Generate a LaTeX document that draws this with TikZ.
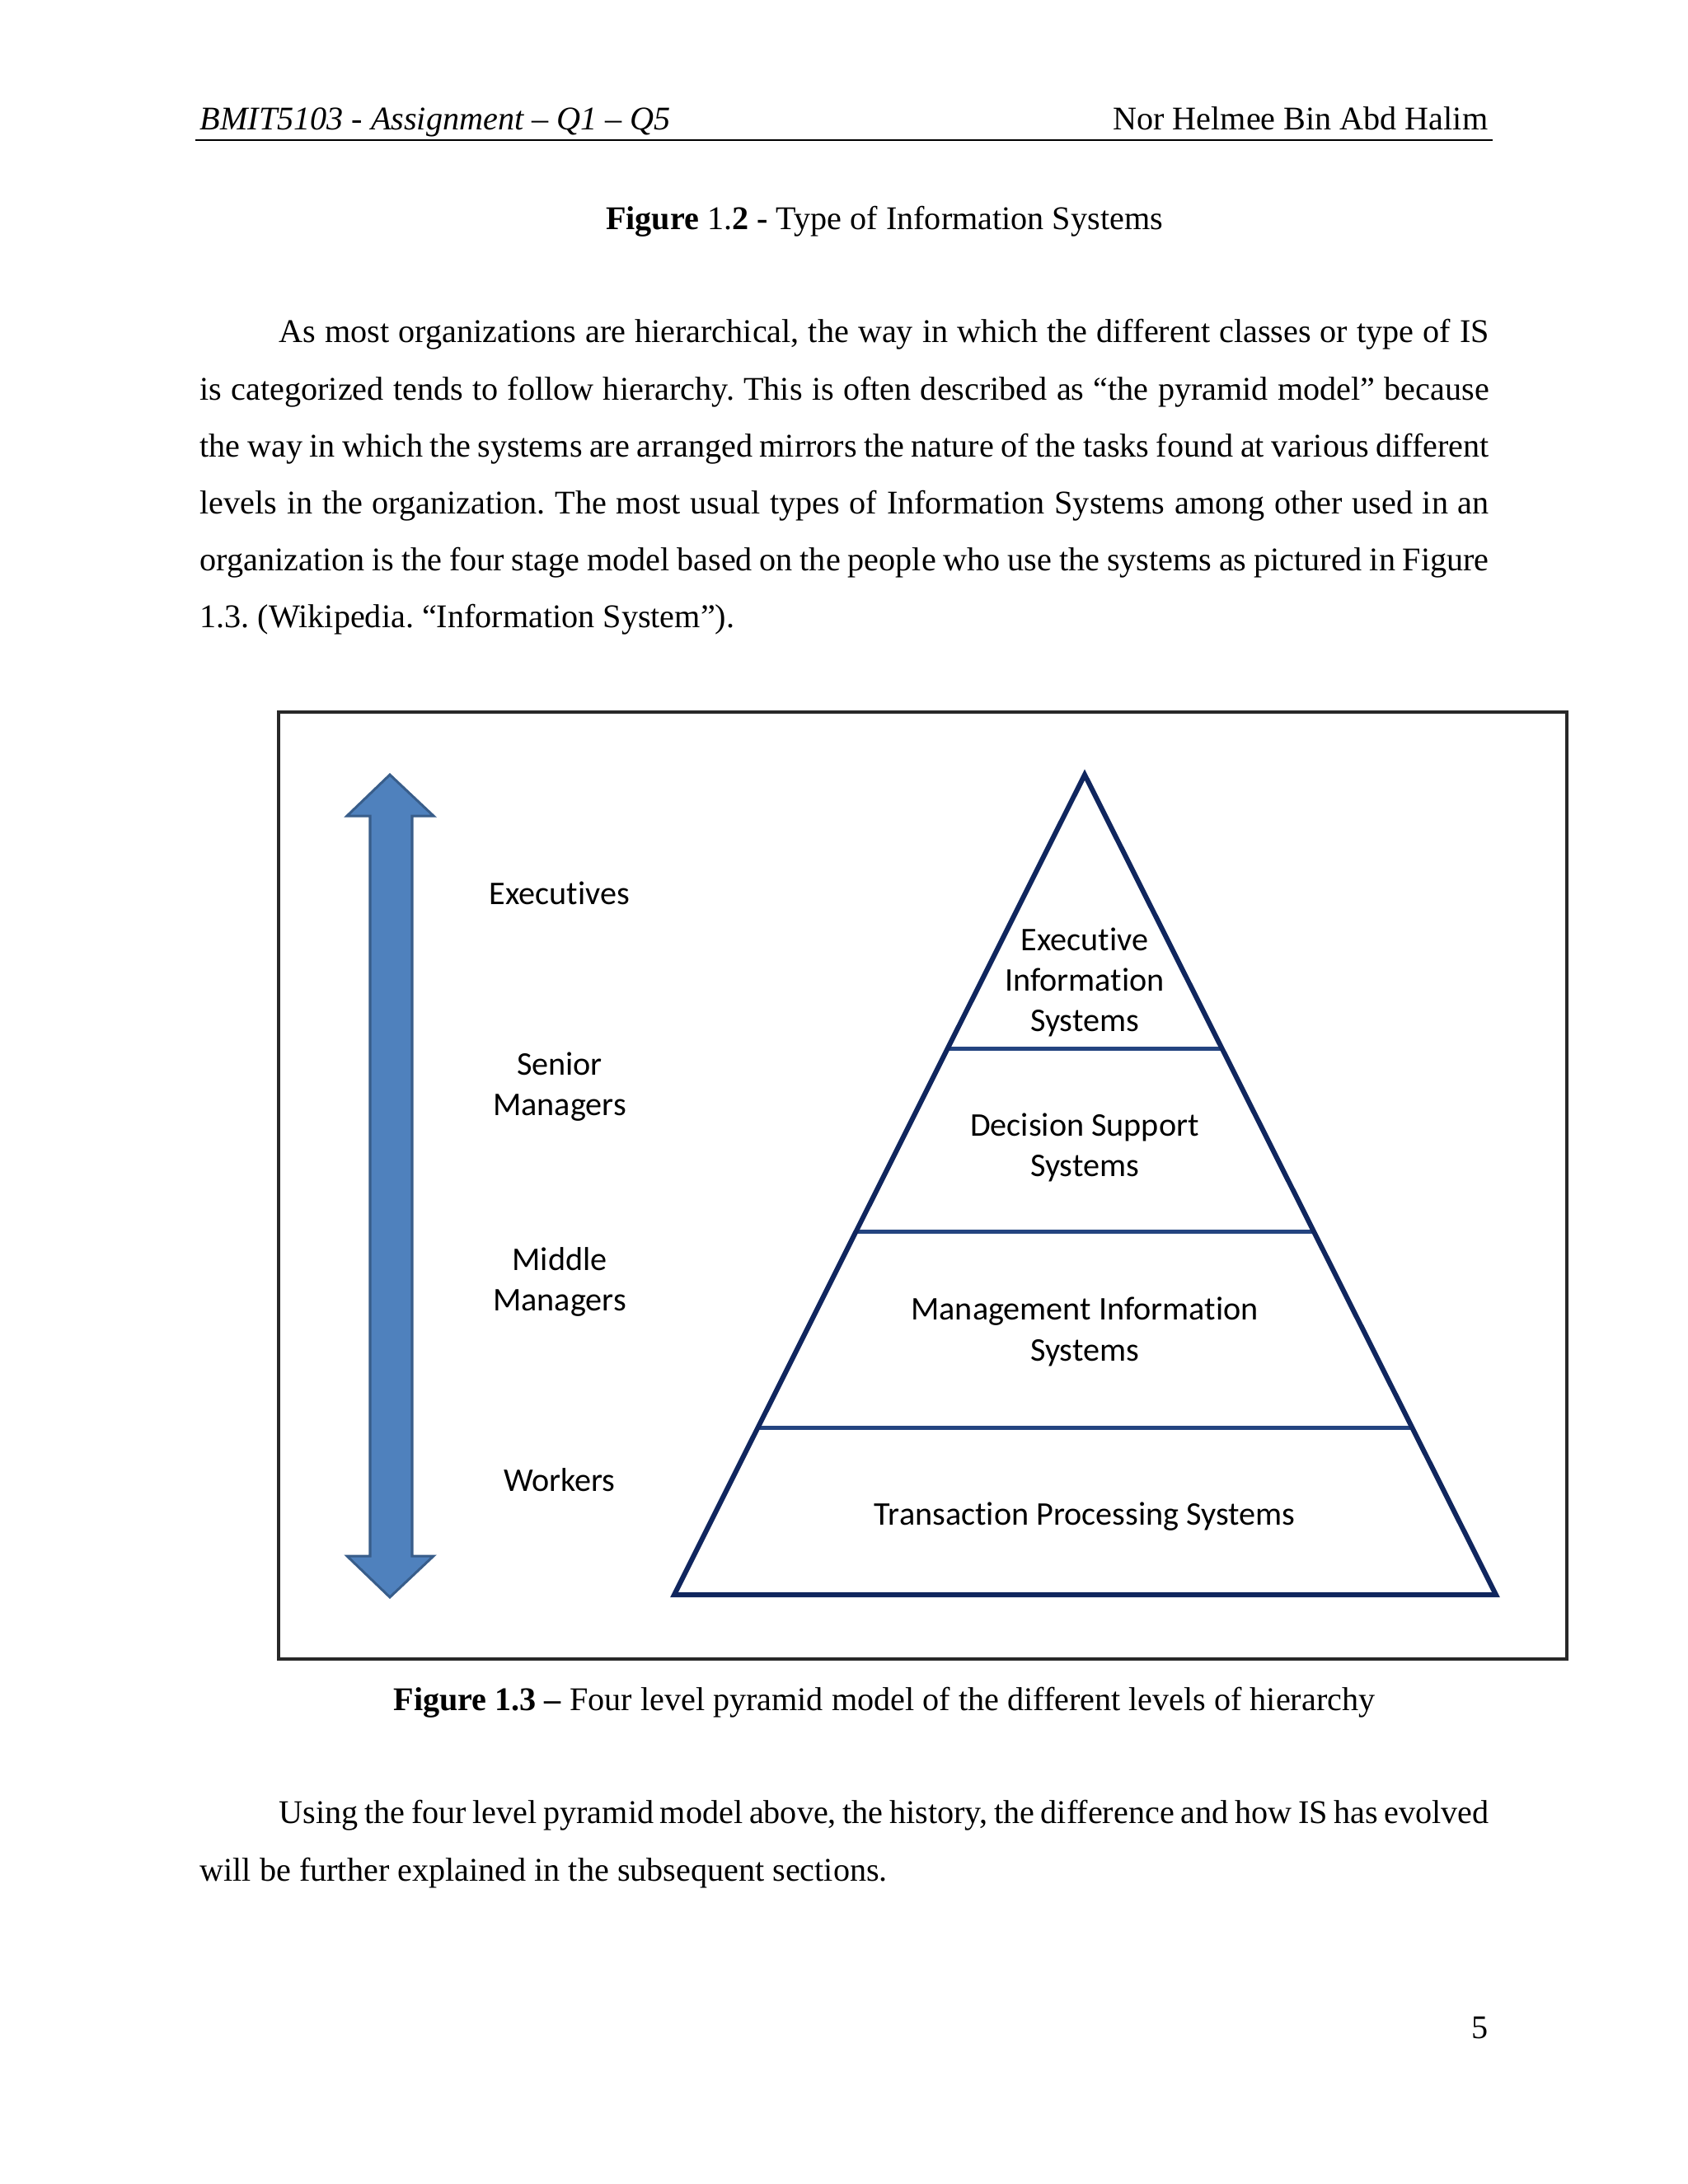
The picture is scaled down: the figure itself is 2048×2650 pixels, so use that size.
\documentclass[tikz,border=0pt]{standalone}
\usepackage{fontspec}
\setmainfont{Liberation Serif}
\newfontfamily\calib[Ligatures={NoCommon}]{Carlito}
\definecolor{arrowfill}{HTML}{4F81BD}
\definecolor{arrowline}{HTML}{385D8A}
\definecolor{pyrline}{RGB}{16,38,94}
\definecolor{divline}{RGB}{36,68,128}
\definecolor{boxline}{RGB}{40,40,40}
\tikzset{
  txt/.style={anchor=base west, inner sep=0pt, font=\fontsize{12}{14}\selectfont},
  ctxt/.style={anchor=base, inner sep=0pt, font=\fontsize{12}{14}\selectfont},
  lbl/.style={anchor=base, inner sep=0pt, font=\calib\fontsize{12}{14}\selectfont},
  pyr/.style={draw=pyrline, line width=1.8pt, line join=miter},
  divider/.style={draw=divline, line width=1.5pt},
}
\frenchspacing
\newcommand\fullline[1]{\makebox[467.37pt][s]{#1}}
\newcommand\indline[1]{\makebox[438.68pt][s]{#1}}
\begin{document}
\begin{tikzpicture}[x=0.29883pt, y=-0.29883pt]
\useasboundingbox (0,0) rectangle (2048,2650);
\fill[white] (0,0) rectangle (2048,2650);

% header
\node[txt] (hl) at (242,157) {\itshape BMIT5103 - Assignment – Q1 – Q5};
\node[ctxt, anchor=base east] (hr) at (1806,157) {Nor Helmee Bin Abd Halim};
\coordinate (rl) at (237,170);
\coordinate (rr) at (1811,170);
\draw[line width=0.7pt] (rl) -- (rr);

% caption 1.2
\node[ctxt] (cap12) at (1073,278) {\textbf{Figure} 1.\textbf{2 -} Type of Information Systems};

% paragraph 1
\node[txt] (p1) at (338,415) {\indline{As most organizations are hierarchical, the way in which the different classes or type of IS}};
\node[txt] (p2) at (242,485) {\fullline{is categorized tends to follow hierarchy. This is often described as “the pyramid model” because}};
\node[txt] (p3) at (242,554) {\fullline{the way in which the systems are arranged mirrors the nature of the tasks found at various different}};
\node[txt] (p4) at (242,623) {\fullline{levels in the organization. The most usual types of Information Systems among other used in an}};
\node[txt] (p5) at (242,692) {\fullline{organization is the four stage model based on the people who use the systems as pictured in Figure}};
\node[txt] (p6) at (242,761) {1.3. (Wikipedia. “Information System”).};

% figure frame
\draw[boxline, line width=1pt] (338,864) rectangle (1901,2013);

% double arrow
\draw[draw=arrowline, fill=arrowfill, line width=0.9pt, line join=miter]
  (473,940) -- (526,990) -- (500,990) -- (500,1888) -- (526,1888) -- (473,1938)
  -- (421,1888) -- (449,1888) -- (449,990) -- (421,990) -- cycle;

% left labels
\node[lbl] (lexec) at (679,1097) {Executives};
\node[lbl] (lsen1) at (679,1304) {Senior};
\node[lbl] (lsen2) at (679,1353) {Managers};
\node[lbl] (lmid1) at (679,1541) {Middle};
\node[lbl] (lmid2) at (679,1590) {Managers};
\node[lbl] (lwork) at (679,1809) {Workers};

% pyramid
\coordinate (apex) at (1316,940);
\coordinate (bl) at (818,1935);
\coordinate (br) at (1815,1935);
\coordinate (d1l) at (1149.8,1272);
\coordinate (d1r) at (1482.2,1272);
\coordinate (d2l) at (1038.7,1494);
\coordinate (d2r) at (1593.3,1494);
\coordinate (d3l) at (919.6,1732);
\coordinate (d3r) at (1712.4,1732);
\draw[divider] (d1l) -- (d1r);
\draw[divider] (d2l) -- (d2r);
\draw[divider] (d3l) -- (d3r);
\draw[pyr] (apex) -- (bl) -- (br) -- cycle;

\node[lbl] (eis1) at (1316,1153) {Executive};
\node[lbl] (eis2) at (1316,1202) {Information};
\node[lbl] (eis3) at (1316,1251) {Systems};
\node[lbl] (dss1) at (1316,1378) {Decision Support};
\node[lbl] (dss2) at (1316,1427) {Systems};
\node[lbl] (mis1) at (1316,1601) {Management Information};
\node[lbl] (mis2) at (1316,1651) {Systems};
\node[lbl] (tps) at (1316,1850) {Transaction Processing Systems};

% caption 1.3
\node[ctxt] (cap13) at (1073,2075) {\textbf{Figure 1.3 –} Four level pyramid model of the different levels of hierarchy};

% paragraph 2
\node[txt] (q1) at (338,2212) {\indline{Using the four level pyramid model above, the history, the difference and how IS has evolved}};
\node[txt] (q2) at (242,2282) {will be further explained in the subsequent sections.};

% page number
\node[ctxt, anchor=base east] (pg) at (1806,2473) {5};
\end{tikzpicture}
\end{document}
